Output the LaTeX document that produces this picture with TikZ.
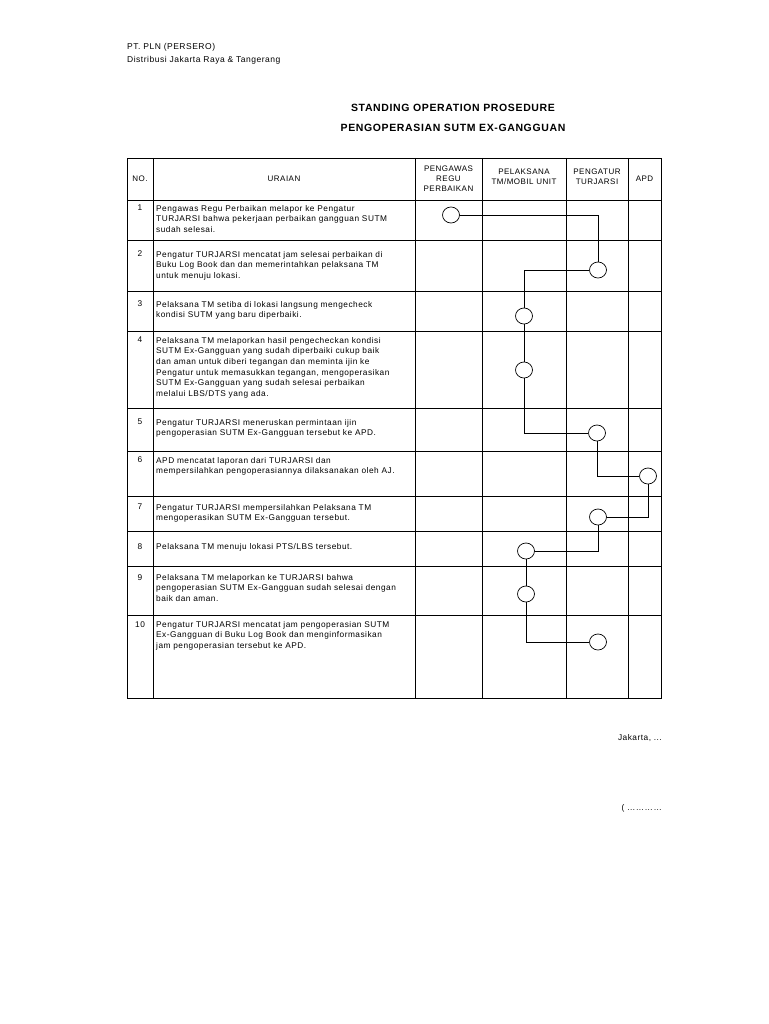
\documentclass[tikz,border=0pt]{standalone}
\usepackage{fontspec}
\setmainfont{Liberation Sans}
\newfontfamily\wide[LetterSpace=6]{Liberation Sans}
\usetikzlibrary{shapes.geometric}
\begin{document}
\begin{tikzpicture}[x=1pt,y=-1pt,
  desc/.style={anchor=north west,inner sep=0pt,align=left,font=\wide\fontsize{8.3}{10.6}\selectfont},
  num/.style={anchor=north,inner sep=0pt,font=\wide\fontsize{8.3}{10.6}\selectfont},
  hd/.style={inner sep=0pt,align=center,font=\wide\fontsize{8}{9.8}\selectfont},
  circ/.style={draw,fill=white,ellipse,minimum width=17pt,minimum height=16pt,inner sep=0pt,line width=0.7pt},
  conn/.style={line width=0.7pt},
  grid/.style={line width=0.9pt}]
\useasboundingbox (0,0) rectangle (768,1024);
\node[anchor=west,inner sep=0pt,font=\wide\fontsize{8.5}{10}\selectfont] (h1) at (127,47) {PT. PLN (PERSERO)};
\node[anchor=west,inner sep=0pt,font=\wide\fontsize{8.5}{10}\selectfont] (h2) at (127,60) {Distribusi Jakarta Raya \& Tangerang};
\node[inner sep=0pt,font=\wide\bfseries\fontsize{10.5}{11}\selectfont] (t1) at (453,108) {STANDING OPERATION PROSEDURE};
\node[inner sep=0pt,font=\wide\bfseries\fontsize{10.5}{11}\selectfont] (t2) at (453,128) {PENGOPERASIAN SUTM EX-GANGGUAN};
% grid
\draw[grid] (127,158) rectangle (661,698);
\foreach \x in {153,415,482,566,628} \draw[grid] (\x,158) -- (\x,698);
\foreach \y in {200,240,291,331,408,451,496,531,566,615} \draw[grid] (127,\y) -- (661,\y);
% header
\node[hd] (c0) at (140,179) {NO.};
\node[hd] (c1) at (284,179) {URAIAN};
\node[hd] (c2) at (448.5,179) {PENGAWAS\\REGU\\PERBAIKAN};
\node[hd] (c3) at (524,177) {PELAKSANA\\TM/MOBIL UNIT};
\node[hd] (c4) at (597,177) {PENGATUR\\TURJARSI};
\node[hd] (c5) at (644.5,179) {APD};
% rows
\foreach \n/\y in {1/205,2/251,3/301,4/337,5/419,6/457,7/504,8/543,9/574,10/621}
  \node[num] (n\n) at (140,\y) {\n};
\node[desc] (d1) at (156,205) {Pengawas Regu Perbaikan melapor ke Pengatur\\TURJARSI bahwa pekerjaan perbaikan gangguan SUTM\\sudah selesai.};
\node[desc] (d2) at (156,251) {Pengatur TURJARSI mencatat jam selesai perbaikan di\\Buku Log Book dan dan memerintahkan pelaksana TM\\untuk menuju lokasi.};
\node[desc] (d3) at (156,301) {Pelaksana TM setiba di lokasi langsung mengecheck\\kondisi SUTM yang baru diperbaiki.};
\node[desc] (d4) at (156,337) {Pelaksana TM melaporkan hasil pengecheckan kondisi\\SUTM Ex-Gangguan yang sudah diperbaiki cukup baik\\dan aman untuk diberi tegangan dan meminta ijin ke\\Pengatur untuk memasukkan tegangan, mengoperasikan\\SUTM Ex-Gangguan yang sudah selesai perbaikan\\melalui LBS/DTS yang ada.};
\node[desc] (d5) at (156,419) {Pengatur TURJARSI meneruskan permintaan ijin\\pengoperasian SUTM Ex-Gangguan tersebut ke APD.};
\node[desc] (d6) at (156,457) {APD mencatat laporan dari TURJARSI dan\\mempersilahkan pengoperasiannya dilaksanakan oleh AJ.};
\node[desc] (d7) at (156,504) {Pengatur TURJARSI mempersilahkan Pelaksana TM\\mengoperasikan SUTM Ex-Gangguan tersebut.};
\node[desc] (d8) at (156,543) {Pelaksana TM menuju lokasi PTS/LBS tersebut.};
\node[desc] (d9) at (156,574) {Pelaksana TM melaporkan ke TURJARSI bahwa\\pengoperasian SUTM Ex-Gangguan sudah selesai dengan\\baik dan aman.};
\node[desc] (d10) at (156,621) {Pengatur TURJARSI mencatat jam pengoperasian SUTM\\Ex-Gangguan di Buku Log Book dan menginformasikan\\jam pengoperasian tersebut ke APD.};
% circles
\node[circ] (s1) at (451,215) {};
\node[circ] (s2) at (598,270) {};
\node[circ] (s3) at (524,316) {};
\node[circ] (s4) at (524,370) {};
\node[circ] (s5) at (597,433) {};
\node[circ] (s6) at (648,476) {};
\node[circ] (s7) at (598,517) {};
\node[circ] (s8) at (526,551) {};
\node[circ] (s9) at (526,594) {};
\node[circ] (s10) at (598,642) {};
\draw[conn] (s1) -| (s2);
\draw[conn] (s2) -| (s3);
\draw[conn] (s3) -- (s4);
\draw[conn] (s4) |- (s5);
\draw[conn] (s5) |- (s6);
\draw[conn] (s6) |- (s7);
\draw[conn] (s7) |- (s8);
\draw[conn] (s8) -- (s9);
\draw[conn] (s9) |- (s10);
\node[anchor=east,inner sep=0pt,font=\wide\fontsize{8.3}{10}\selectfont] (j) at (662,738) {Jakarta, ...};
\node[anchor=east,inner sep=0pt,font=\wide\fontsize{8.3}{10}\selectfont] (p) at (662,808) {( …………};
\end{tikzpicture}
\end{document}
